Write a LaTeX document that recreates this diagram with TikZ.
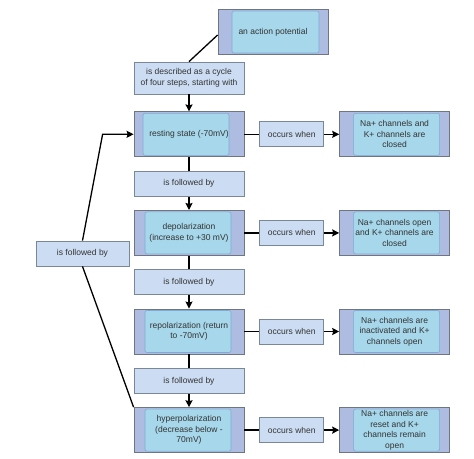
\documentclass[tikz,border=0pt]{standalone}
\usepackage{fontspec}
\setmainfont{Liberation Sans}
\usetikzlibrary{arrows.meta, positioning}

\definecolor{barfill}{HTML}{AFBCE2}
\definecolor{barline}{HTML}{6F7682}
\definecolor{innerfill}{HTML}{A6D7EA}
\definecolor{innerline}{HTML}{7FAAD6}
\definecolor{lblfill}{HTML}{CCDDF3}
\definecolor{lblline}{HTML}{7A8796}
\definecolor{txt}{HTML}{333333}

\begin{document}
\begin{tikzpicture}[
  font=\fontsize{8.5}{10.5}\selectfont, text=txt, node distance=13.5pt,
  concept/.style 2 args={draw=barline, fill=barfill, line width=0.8pt,
              minimum width=110pt, minimum height=45pt, align=center, inner sep=1pt,
              path picture={\draw[innerline, fill=innerfill, rounded corners=2pt, line width=0.6pt]
                ([xshift=#1pt, yshift=1.5pt]path picture bounding box.south west) rectangle
                ([xshift=-#2pt, yshift=-1.5pt]path picture bounding box.north east);}},
  lbl/.style={draw=lblline, fill=lblfill, line width=0.8pt, align=center,
              minimum width=110pt, minimum height=25pt, inner sep=1pt},
  arr/.style={line width=1.3pt, -{Stealth[length=7pt, width=7pt, inset=1pt]}},
  ln/.style={line width=1.3pt}]
\useasboundingbox (0,0) rectangle (474pt,-458pt);
\node[concept={14}{9}] (ap) at (273pt,-32pt) {an action potential};
\node[lbl, minimum height=32pt] (desc) at (189pt,-78pt) {is described as a cycle\\ of four steps, starting with};
\node[concept={9}{15}, below=17pt of desc] (rest) {resting state (-70mV)};
\node[lbl, below=of rest] (fb1) {is followed by};
\node[concept={11}{13}, below=of fb1] (depol) {depolarization\\ (increase to +30 mV)};
\node[lbl, below=of depol] (fb2) {is followed by};
\node[concept={11}{13}, below=of fb2] (repol) {repolarization (return\\ to -70mV)};
\node[lbl, below=of repol] (fb3) {is followed by};
\node[concept={11}{13}, below=of fb3] (hyper) {hyperpolarization\\ (decrease below -\\ 70mV)};
% occurs when
\node[lbl, minimum width=64pt, right=15pt of rest] (occ1) {occurs when};
\node[lbl, minimum width=64pt, right=15pt of depol] (occ2) {occurs when};
\node[lbl, minimum width=64pt, right=15pt of repol] (occ3) {occurs when};
\node[lbl, minimum width=64pt, right=15pt of hyper] (occ4) {occurs when};
\node[concept={14}{10}, right=15pt of occ1] (ch1) {Na+ channels and\\ K+ channels are\\ closed};
\node[concept={14}{10}, right=15pt of occ2] (ch2) {Na+ channels open\\ and K+ channels are\\ closed};
\node[concept={14}{10}, right=15pt of occ3] (ch3) {Na+ channels are\\ inactivated and K+\\ channels open};
\node[concept={14}{10}, right=15pt of occ4] (ch4) {Na+ channels are\\ reset and K+\\ channels remain\\ open};
% loop back
\node[lbl, minimum width=93pt] (loop) at (82.5pt,-253.5pt) {is followed by};
\coordinate (bend) at ([xshift=-31pt]rest.west);

\draw[ln] ([yshift=-3pt]ap.west) -- (desc.north);
\draw[arr] (desc) -- (rest);
\draw[ln] (rest) -- (fb1);
\draw[arr] (fb1) -- (depol);
\draw[ln] (depol) -- (fb2);
\draw[arr] (fb2) -- (repol);
\draw[ln] (repol) -- (fb3);
\draw[arr] (fb3) -- (hyper);
\draw[ln] (rest) -- (occ1);
\draw[arr] (occ1) -- (ch1);
\draw[ln] (depol) -- (occ2);
\draw[arr] (occ2) -- (ch2);
\draw[ln] (repol) -- (occ3);
\draw[arr] (occ3) -- (ch3);
\draw[ln] (hyper) -- (occ4);
\draw[arr] (occ4) -- (ch4);
\draw[ln] (hyper.north west) -- (loop.south);
\draw[arr] (loop.north) -- (bend) -- (rest.west);
\end{tikzpicture}
\end{document}
